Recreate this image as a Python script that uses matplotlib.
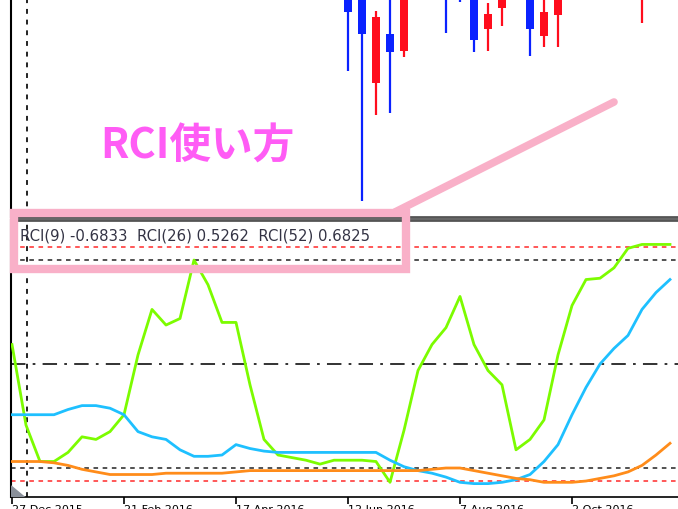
from matplotlib import pyplot as plt
from matplotlib.patches import Rectangle, Polygon
from matplotlib.lines import Line2D
import numpy as np

plt.rcParams['font.family'] = ['Noto Sans CJK JP', 'DejaVu Sans']

# weekly bars, index 0 = week of 27 Dec 2015
tick_pos = [0, 8, 16, 24, 32, 40]
tick_labels = ["27 Dec 2015", "21 Feb 2016", "17 Apr 2016", "12 Jun 2016", "7 Aug 2016", "2 Oct 2016"]

# visible candles only (the rest are above the cropped window)
candle_idx = [24, 25, 26, 27, 28, 31, 32, 33, 34, 35, 37, 38, 39, 45]
c_open  = [110.5, 110.8, 104.85, 107.3, 106.45, 111.5, 111.0, 110.5, 107.55, 108.6, 110.3, 107.2, 108.25, 109.5]
c_close = [108.4, 107.3, 108.15, 106.4, 110.2, 109.3, 109.5, 107.0, 108.3, 110.0, 107.55, 108.4, 110.4, 111.0]
c_high  = [111.0, 111.2, 108.45, 109.5, 110.6, 112.0, 111.5, 111.0, 108.85, 110.5, 111.0, 109.5, 111.0, 111.5]
c_low   = [105.45, 98.95, 103.25, 103.35, 106.15, 107.35, 108.9, 106.4, 106.45, 107.7, 106.2, 106.65, 106.65, 107.85]

rci9 = [0.15, -0.47, -0.75, -0.75, -0.68, -0.56, -0.58, -0.52, -0.39, 0.07,
        0.42, 0.30, 0.35, 0.80, 0.61, 0.32, 0.32, -0.16, -0.58, -0.70,
        -0.72, -0.74, -0.77, -0.74, -0.74, -0.74, -0.75, -0.91, -0.51, -0.05,
        0.15, 0.28, 0.52, 0.15, -0.05, -0.16, -0.66, -0.58, -0.43, 0.07,
        0.45, 0.65, 0.66, 0.74, 0.89, 0.92, 0.92, 0.92]
rci26 = [-0.39, -0.39, -0.39, -0.39, -0.35, -0.32, -0.32, -0.34, -0.39, -0.52,
         -0.56, -0.58, -0.66, -0.71, -0.71, -0.70, -0.62, -0.65, -0.67, -0.68,
         -0.68, -0.68, -0.68, -0.68, -0.68, -0.68, -0.68, -0.74, -0.79, -0.82,
         -0.84, -0.87, -0.91, -0.92, -0.92, -0.91, -0.89, -0.85, -0.75, -0.62,
         -0.39, -0.18, 0.00, 0.12, 0.22, 0.42, 0.55, 0.65]
rci52 = [-0.75, -0.75, -0.75, -0.76, -0.78, -0.81, -0.83, -0.85, -0.85, -0.85,
         -0.85, -0.84, -0.84, -0.84, -0.84, -0.84, -0.83, -0.82, -0.82, -0.82,
         -0.82, -0.82, -0.82, -0.82, -0.82, -0.82, -0.82, -0.82, -0.82, -0.82,
         -0.81, -0.80, -0.80, -0.82, -0.84, -0.86, -0.88, -0.89, -0.91, -0.91,
         -0.91, -0.90, -0.88, -0.86, -0.83, -0.78, -0.70, -0.61]

legend_text = "RCI(9) -0.6833  RCI(26) 0.5262  RCI(52) 0.6825"
levels_red = [0.9, -0.9]
levels_black = [0.8, -0.8]

W, H = 678, 509
fig = plt.figure(figsize=(W / 100, H / 100), dpi=100)
left = 11 / W
x_lo, x_hi = -1 / 14, (W - 12) / 14

ax1 = fig.add_axes([left, 1 - 217 / H, 1 - left, 217 / H])
ax2 = fig.add_axes([left, 1 - 497 / H, 1 - left, (497 - 220) / H])

# --- price window
for i, o, c, h, l in zip(candle_idx, c_open, c_close, c_high, c_low):
    bull = c > o
    col = '#ff0d1d' if bull else '#0a22ff'
    ax1.vlines(i, l, h, color=col, lw=1.6, zorder=2)
    ax1.bar(i, abs(c - o), bottom=min(o, c), width=0.58, color=col, zorder=3)
ax1.set_ylim(98.15, 109)
ax1.set_xlim(x_lo, x_hi)
ax1.axvline(1.07, color='#222222', ls=(0, (2.5, 3)), lw=1.4)
ax1.set_xticks([])
ax1.set_yticks([])
for s in ['top', 'right']:
    ax1.spines[s].set_visible(False)
ax1.spines['left'].set_linewidth(1.5)
ax1.spines['bottom'].set_linewidth(2)
ax1.spines['bottom'].set_color('#555555')

# --- RCI window
x = np.arange(len(rci9))
for lv in levels_red:
    ax2.axhline(lv, color='#ff2a2a', ls=(0, (3, 3)), lw=1.1, zorder=1)
for lv in levels_black:
    ax2.axhline(lv, color='#222222', ls=(0, (3, 3)), lw=1.1, zorder=1)
ax2.axhline(0, color='#222222', ls=(0, (8, 4, 1.5, 4)), lw=1.3, zorder=1)
ax2.axvline(1.07, color='#222222', ls=(0, (2.5, 3)), lw=1.4, zorder=1)
ax2.plot(x, rci9, color='#7cfc00', lw=2, zorder=3)
ax2.plot(x, rci26, color='#1ec0ff', lw=2, zorder=4)
ax2.plot(x, rci52, color='#ff8c1a', lw=2, zorder=5)
ax2.set_ylim(-1.023, 1.108)
ax2.set_xlim(x_lo, x_hi)
ax2.set_yticks([])
ax2.set_xticks(tick_pos)
ax2.set_xticklabels(tick_labels, ha='left', fontsize=8, family='DejaVu Sans')
ax2.tick_params(axis='x', length=5, width=1.2, pad=1)
ax2.spines['right'].set_visible(False)
ax2.spines['top'].set_color('#555555')
ax2.spines['top'].set_linewidth(2)
ax2.spines['left'].set_linewidth(1.5)
ax2.spines['bottom'].set_linewidth(1.2)
ax2.text(0.0135, 0.942, legend_text, transform=ax2.transAxes, fontsize=10.7,
         family='DejaVu Sans', color='#333344', va='center', ha='left')
ax2.add_patch(Polygon([[0, 0], [0.02, 0], [0, 0.04]], closed=True,
                      transform=ax2.transAxes, color='#8a909a', zorder=6))

# --- pink annotation overlay (pixel layout)
def fx(px):
    return px / W

def fy(py):
    return 1 - py / H

fig.patches.append(Rectangle((fx(14), fy(269)), fx(392), 56 / H, fill=False,
                             edgecolor='#f9b0c8', lw=6, transform=fig.transFigure, zorder=10))
fig.lines.append(Line2D([fx(395), fx(614)], [fy(212), fy(102)], color='#f9b0c8', lw=5.5,
                        solid_capstyle='round', transform=fig.transFigure, zorder=10))
fig.text(fx(100), fy(147), "RCI使い方", fontsize=30, fontweight='bold', color='#ff5cf5',
         va='center', ha='left', family=['Noto Sans CJK JP', 'DejaVu Sans'])

fig.savefig("out.png", dpi=100)
